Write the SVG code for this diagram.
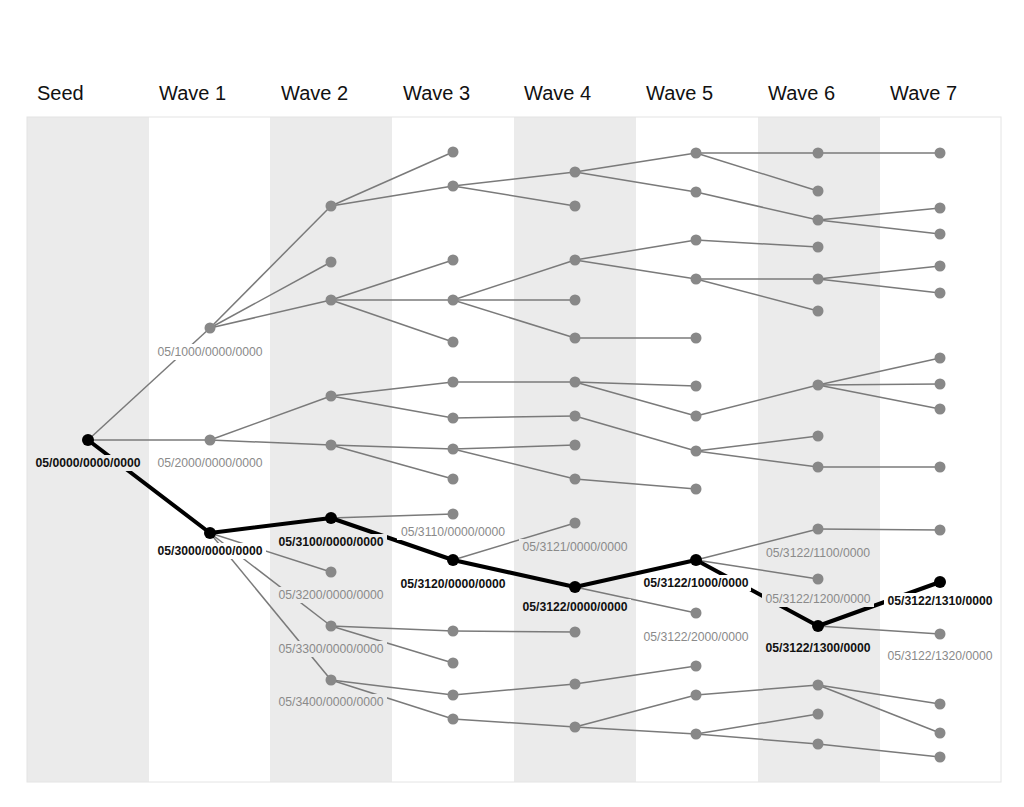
<svg xmlns="http://www.w3.org/2000/svg" width="1024" height="807" viewBox="0 0 1024 807">
<style>
.band{fill:#ebebeb}
.hdr{font-family:"Liberation Sans",Arial,sans-serif;font-size:20px;fill:#111}
.e{stroke:#7a7a7a;stroke-width:1.5;fill:none}
.eb{stroke:#000;stroke-width:4;fill:none}
.n{fill:#888}
.nb{fill:#000}
.lb{font-family:"Liberation Sans",Arial,sans-serif;font-size:12.2px;text-anchor:middle}
.lk{fill:#111;font-weight:bold}
.lg{fill:#8a8a8a}
.bw{fill:#fff}
.bg{fill:#ebebeb}
</style>
<rect x="0" y="0" width="1024" height="807" fill="#fff"/>
<g id="bands">
<rect class="band" x="27" y="117" width="122" height="665"/>
<rect class="band" x="270" y="117" width="122" height="665"/>
<rect class="band" x="514" y="117" width="122" height="665"/>
<rect class="band" x="758" y="117" width="122" height="665"/>
<rect x="27" y="117" width="974" height="665" fill="none" stroke="#e4e4e4" stroke-width="1"/>
</g>
<g id="headers">
<text class="hdr" x="37" y="100">Seed</text>
<text class="hdr" x="159" y="100">Wave 1</text>
<text class="hdr" x="281" y="100">Wave 2</text>
<text class="hdr" x="403" y="100">Wave 3</text>
<text class="hdr" x="524" y="100">Wave 4</text>
<text class="hdr" x="646" y="100">Wave 5</text>
<text class="hdr" x="768" y="100">Wave 6</text>
<text class="hdr" x="890" y="100">Wave 7</text>
</g>
<g id="connectors">
<line class="e" x1="88" y1="440" x2="210" y2="328"/>
<line class="e" x1="88" y1="440" x2="210" y2="440"/>
<line class="e" x1="210" y1="328" x2="331" y2="206"/>
<line class="e" x1="210" y1="328" x2="331" y2="262"/>
<line class="e" x1="210" y1="328" x2="331" y2="300"/>
<line class="e" x1="210" y1="440" x2="331" y2="396"/>
<line class="e" x1="210" y1="440" x2="331" y2="445"/>
<line class="e" x1="210" y1="533" x2="331" y2="572"/>
<line class="e" x1="210" y1="533" x2="331" y2="626"/>
<line class="e" x1="210" y1="533" x2="331" y2="680"/>
<line class="e" x1="331" y1="206" x2="453" y2="152"/>
<line class="e" x1="331" y1="206" x2="453" y2="186"/>
<line class="e" x1="331" y1="300" x2="453" y2="260"/>
<line class="e" x1="331" y1="300" x2="453" y2="300"/>
<line class="e" x1="331" y1="300" x2="453" y2="342"/>
<line class="e" x1="331" y1="396" x2="453" y2="382"/>
<line class="e" x1="331" y1="396" x2="453" y2="418"/>
<line class="e" x1="331" y1="445" x2="453" y2="449"/>
<line class="e" x1="331" y1="445" x2="453" y2="479"/>
<line class="e" x1="331" y1="518" x2="453" y2="514"/>
<line class="e" x1="331" y1="626" x2="453" y2="631"/>
<line class="e" x1="331" y1="626" x2="453" y2="663"/>
<line class="e" x1="331" y1="680" x2="453" y2="695"/>
<line class="e" x1="331" y1="680" x2="453" y2="719"/>
<line class="e" x1="453" y1="186" x2="575" y2="172"/>
<line class="e" x1="453" y1="186" x2="575" y2="206"/>
<line class="e" x1="453" y1="300" x2="575" y2="260"/>
<line class="e" x1="453" y1="300" x2="575" y2="300"/>
<line class="e" x1="453" y1="300" x2="575" y2="338"/>
<line class="e" x1="453" y1="382" x2="575" y2="382"/>
<line class="e" x1="453" y1="418" x2="575" y2="416"/>
<line class="e" x1="453" y1="449" x2="575" y2="445"/>
<line class="e" x1="453" y1="449" x2="575" y2="479"/>
<line class="e" x1="453" y1="560" x2="575" y2="523"/>
<line class="e" x1="453" y1="631" x2="575" y2="632"/>
<line class="e" x1="453" y1="695" x2="575" y2="684"/>
<line class="e" x1="453" y1="719" x2="575" y2="727"/>
<line class="e" x1="575" y1="172" x2="696" y2="153"/>
<line class="e" x1="575" y1="172" x2="696" y2="192"/>
<line class="e" x1="575" y1="260" x2="696" y2="240"/>
<line class="e" x1="575" y1="260" x2="696" y2="279"/>
<line class="e" x1="575" y1="338" x2="696" y2="338"/>
<line class="e" x1="575" y1="382" x2="696" y2="386"/>
<line class="e" x1="575" y1="382" x2="696" y2="416"/>
<line class="e" x1="575" y1="416" x2="696" y2="451"/>
<line class="e" x1="575" y1="479" x2="696" y2="489"/>
<line class="e" x1="575" y1="587" x2="696" y2="613"/>
<line class="e" x1="575" y1="684" x2="696" y2="666"/>
<line class="e" x1="575" y1="727" x2="696" y2="695"/>
<line class="e" x1="575" y1="727" x2="696" y2="734"/>
<line class="e" x1="696" y1="153" x2="818" y2="153"/>
<line class="e" x1="696" y1="153" x2="818" y2="191"/>
<line class="e" x1="696" y1="192" x2="818" y2="220"/>
<line class="e" x1="696" y1="240" x2="818" y2="247"/>
<line class="e" x1="696" y1="279" x2="818" y2="279"/>
<line class="e" x1="696" y1="279" x2="818" y2="311"/>
<line class="e" x1="696" y1="416" x2="818" y2="385"/>
<line class="e" x1="696" y1="451" x2="818" y2="436"/>
<line class="e" x1="696" y1="451" x2="818" y2="467"/>
<line class="e" x1="696" y1="560" x2="818" y2="529"/>
<line class="e" x1="696" y1="560" x2="818" y2="579"/>
<line class="e" x1="696" y1="695" x2="818" y2="685"/>
<line class="e" x1="696" y1="734" x2="818" y2="714"/>
<line class="e" x1="696" y1="734" x2="818" y2="744"/>
<line class="e" x1="818" y1="153" x2="940" y2="153"/>
<line class="e" x1="818" y1="220" x2="940" y2="208"/>
<line class="e" x1="818" y1="220" x2="940" y2="234"/>
<line class="e" x1="818" y1="279" x2="940" y2="266"/>
<line class="e" x1="818" y1="279" x2="940" y2="293"/>
<line class="e" x1="818" y1="385" x2="940" y2="358"/>
<line class="e" x1="818" y1="385" x2="940" y2="384"/>
<line class="e" x1="818" y1="385" x2="940" y2="409"/>
<line class="e" x1="818" y1="467" x2="940" y2="467"/>
<line class="e" x1="818" y1="529" x2="940" y2="530"/>
<line class="e" x1="818" y1="626" x2="940" y2="634"/>
<line class="e" x1="818" y1="685" x2="940" y2="704"/>
<line class="e" x1="818" y1="685" x2="940" y2="733"/>
<line class="e" x1="818" y1="744" x2="940" y2="757"/>
<polyline class="eb" stroke-linejoin="round" points="88,440 210,533 331,518 453,560 575,587 696,560 818,626 940,582"/>
</g>
<g id="n-seed"><circle class="nb" cx="88" cy="440" r="6"/><rect class="bg" x="32" y="455" width="112" height="16"/><text class="lb lk" x="88" y="467">05/0000/0000/0000</text></g>
<g id="n-1000"><circle class="n" cx="210" cy="328" r="5.5"/><rect class="bw" x="154" y="344" width="112" height="16"/><text class="lb lg" x="210" y="356">05/1000/0000/0000</text></g>
<g id="n-2000"><circle class="n" cx="210" cy="440" r="5.5"/><rect class="bw" x="154" y="455" width="112" height="16"/><text class="lb lg" x="210" y="467">05/2000/0000/0000</text></g>
<g id="n-3000"><circle class="nb" cx="210" cy="533" r="6"/><rect class="bw" x="154" y="543" width="112" height="16"/><text class="lb lk" x="210" y="555">05/3000/0000/0000</text></g>
<g id="n-w2-206"><circle class="n" cx="331" cy="206" r="5.5"/></g>
<g id="n-w2-262"><circle class="n" cx="331" cy="262" r="5.5"/></g>
<g id="n-w2-300"><circle class="n" cx="331" cy="300" r="5.5"/></g>
<g id="n-w2-396"><circle class="n" cx="331" cy="396" r="5.5"/></g>
<g id="n-w2-445"><circle class="n" cx="331" cy="445" r="5.5"/></g>
<g id="n-3100"><circle class="nb" cx="331" cy="518" r="6"/><rect class="bg" x="275" y="534" width="112" height="16"/><text class="lb lk" x="331" y="546">05/3100/0000/0000</text></g>
<g id="n-3200"><circle class="n" cx="331" cy="572" r="5.5"/><rect class="bg" x="275" y="587" width="112" height="16"/><text class="lb lg" x="331" y="599">05/3200/0000/0000</text></g>
<g id="n-3300"><circle class="n" cx="331" cy="626" r="5.5"/><rect class="bg" x="275" y="641" width="112" height="16"/><text class="lb lg" x="331" y="653">05/3300/0000/0000</text></g>
<g id="n-3400"><circle class="n" cx="331" cy="680" r="5.5"/><rect class="bg" x="275" y="694" width="112" height="16"/><text class="lb lg" x="331" y="706">05/3400/0000/0000</text></g>
<g id="n-w3-152"><circle class="n" cx="453" cy="152" r="5.5"/></g>
<g id="n-w3-186"><circle class="n" cx="453" cy="186" r="5.5"/></g>
<g id="n-w3-260"><circle class="n" cx="453" cy="260" r="5.5"/></g>
<g id="n-w3-300"><circle class="n" cx="453" cy="300" r="5.5"/></g>
<g id="n-w3-342"><circle class="n" cx="453" cy="342" r="5.5"/></g>
<g id="n-w3-382"><circle class="n" cx="453" cy="382" r="5.5"/></g>
<g id="n-w3-418"><circle class="n" cx="453" cy="418" r="5.5"/></g>
<g id="n-w3-449"><circle class="n" cx="453" cy="449" r="5.5"/></g>
<g id="n-w3-479"><circle class="n" cx="453" cy="479" r="5.5"/></g>
<g id="n-3110"><circle class="n" cx="453" cy="514" r="5.5"/><rect class="bw" x="397" y="524" width="112" height="16"/><text class="lb lg" x="453" y="536">05/3110/0000/0000</text></g>
<g id="n-3120"><circle class="nb" cx="453" cy="560" r="6"/><rect class="bw" x="397" y="576" width="112" height="16"/><text class="lb lk" x="453" y="588">05/3120/0000/0000</text></g>
<g id="n-w3-631"><circle class="n" cx="453" cy="631" r="5.5"/></g>
<g id="n-w3-663"><circle class="n" cx="453" cy="663" r="5.5"/></g>
<g id="n-w3-695"><circle class="n" cx="453" cy="695" r="5.5"/></g>
<g id="n-w3-719"><circle class="n" cx="453" cy="719" r="5.5"/></g>
<g id="n-w4-172"><circle class="n" cx="575" cy="172" r="5.5"/></g>
<g id="n-w4-206"><circle class="n" cx="575" cy="206" r="5.5"/></g>
<g id="n-w4-260"><circle class="n" cx="575" cy="260" r="5.5"/></g>
<g id="n-w4-300"><circle class="n" cx="575" cy="300" r="5.5"/></g>
<g id="n-w4-338"><circle class="n" cx="575" cy="338" r="5.5"/></g>
<g id="n-w4-382"><circle class="n" cx="575" cy="382" r="5.5"/></g>
<g id="n-w4-416"><circle class="n" cx="575" cy="416" r="5.5"/></g>
<g id="n-w4-445"><circle class="n" cx="575" cy="445" r="5.5"/></g>
<g id="n-w4-479"><circle class="n" cx="575" cy="479" r="5.5"/></g>
<g id="n-3121"><circle class="n" cx="575" cy="523" r="5.5"/><rect class="bg" x="519" y="539" width="112" height="16"/><text class="lb lg" x="575" y="551">05/3121/0000/0000</text></g>
<g id="n-3122"><circle class="nb" cx="575" cy="587" r="6"/><rect class="bg" x="519" y="599" width="112" height="16"/><text class="lb lk" x="575" y="611">05/3122/0000/0000</text></g>
<g id="n-w4-632"><circle class="n" cx="575" cy="632" r="5.5"/></g>
<g id="n-w4-684"><circle class="n" cx="575" cy="684" r="5.5"/></g>
<g id="n-w4-727"><circle class="n" cx="575" cy="727" r="5.5"/></g>
<g id="n-w5-153"><circle class="n" cx="696" cy="153" r="5.5"/></g>
<g id="n-w5-192"><circle class="n" cx="696" cy="192" r="5.5"/></g>
<g id="n-w5-240"><circle class="n" cx="696" cy="240" r="5.5"/></g>
<g id="n-w5-279"><circle class="n" cx="696" cy="279" r="5.5"/></g>
<g id="n-w5-338"><circle class="n" cx="696" cy="338" r="5.5"/></g>
<g id="n-w5-386"><circle class="n" cx="696" cy="386" r="5.5"/></g>
<g id="n-w5-416"><circle class="n" cx="696" cy="416" r="5.5"/></g>
<g id="n-w5-451"><circle class="n" cx="696" cy="451" r="5.5"/></g>
<g id="n-w5-489"><circle class="n" cx="696" cy="489" r="5.5"/></g>
<g id="n-3122-1000"><circle class="nb" cx="696" cy="560" r="6"/><rect class="bw" x="641" y="575" width="110" height="16"/><text class="lb lk" x="696" y="587">05/3122/1000/0000</text></g>
<g id="n-3122-2000"><circle class="n" cx="696" cy="613" r="5.5"/><rect class="bw" x="640" y="629" width="112" height="16"/><text class="lb lg" x="696" y="641">05/3122/2000/0000</text></g>
<g id="n-w5-666"><circle class="n" cx="696" cy="666" r="5.5"/></g>
<g id="n-w5-695"><circle class="n" cx="696" cy="695" r="5.5"/></g>
<g id="n-w5-734"><circle class="n" cx="696" cy="734" r="5.5"/></g>
<g id="n-w6-153"><circle class="n" cx="818" cy="153" r="5.5"/></g>
<g id="n-w6-191"><circle class="n" cx="818" cy="191" r="5.5"/></g>
<g id="n-w6-220"><circle class="n" cx="818" cy="220" r="5.5"/></g>
<g id="n-w6-247"><circle class="n" cx="818" cy="247" r="5.5"/></g>
<g id="n-w6-279"><circle class="n" cx="818" cy="279" r="5.5"/></g>
<g id="n-w6-311"><circle class="n" cx="818" cy="311" r="5.5"/></g>
<g id="n-w6-385"><circle class="n" cx="818" cy="385" r="5.5"/></g>
<g id="n-w6-436"><circle class="n" cx="818" cy="436" r="5.5"/></g>
<g id="n-w6-467"><circle class="n" cx="818" cy="467" r="5.5"/></g>
<g id="n-3122-1100"><circle class="n" cx="818" cy="529" r="5.5"/><rect class="bg" x="762" y="545" width="112" height="16"/><text class="lb lg" x="818" y="557">05/3122/1100/0000</text></g>
<g id="n-3122-1200"><circle class="n" cx="818" cy="579" r="5.5"/><rect class="bg" x="762" y="591" width="112" height="16"/><text class="lb lg" x="818" y="603">05/3122/1200/0000</text></g>
<g id="n-3122-1300"><circle class="nb" cx="818" cy="626" r="6"/><rect class="bg" x="762" y="640" width="112" height="16"/><text class="lb lk" x="818" y="652">05/3122/1300/0000</text></g>
<g id="n-w6-685"><circle class="n" cx="818" cy="685" r="5.5"/></g>
<g id="n-w6-714"><circle class="n" cx="818" cy="714" r="5.5"/></g>
<g id="n-w6-744"><circle class="n" cx="818" cy="744" r="5.5"/></g>
<g id="n-w7-153"><circle class="n" cx="940" cy="153" r="5.5"/></g>
<g id="n-w7-208"><circle class="n" cx="940" cy="208" r="5.5"/></g>
<g id="n-w7-234"><circle class="n" cx="940" cy="234" r="5.5"/></g>
<g id="n-w7-266"><circle class="n" cx="940" cy="266" r="5.5"/></g>
<g id="n-w7-293"><circle class="n" cx="940" cy="293" r="5.5"/></g>
<g id="n-w7-358"><circle class="n" cx="940" cy="358" r="5.5"/></g>
<g id="n-w7-384"><circle class="n" cx="940" cy="384" r="5.5"/></g>
<g id="n-w7-409"><circle class="n" cx="940" cy="409" r="5.5"/></g>
<g id="n-w7-467"><circle class="n" cx="940" cy="467" r="5.5"/></g>
<g id="n-w7-530"><circle class="n" cx="940" cy="530" r="5.5"/></g>
<g id="n-3122-1310"><circle class="nb" cx="940" cy="582" r="6"/><rect class="bw" x="884" y="593" width="112" height="16"/><text class="lb lk" x="940" y="605">05/3122/1310/0000</text></g>
<g id="n-3122-1320"><circle class="n" cx="940" cy="634" r="5.5"/><rect class="bw" x="884" y="648" width="112" height="16"/><text class="lb lg" x="940" y="660">05/3122/1320/0000</text></g>
<g id="n-w7-704"><circle class="n" cx="940" cy="704" r="5.5"/></g>
<g id="n-w7-733"><circle class="n" cx="940" cy="733" r="5.5"/></g>
<g id="n-w7-757"><circle class="n" cx="940" cy="757" r="5.5"/></g>
</svg>
